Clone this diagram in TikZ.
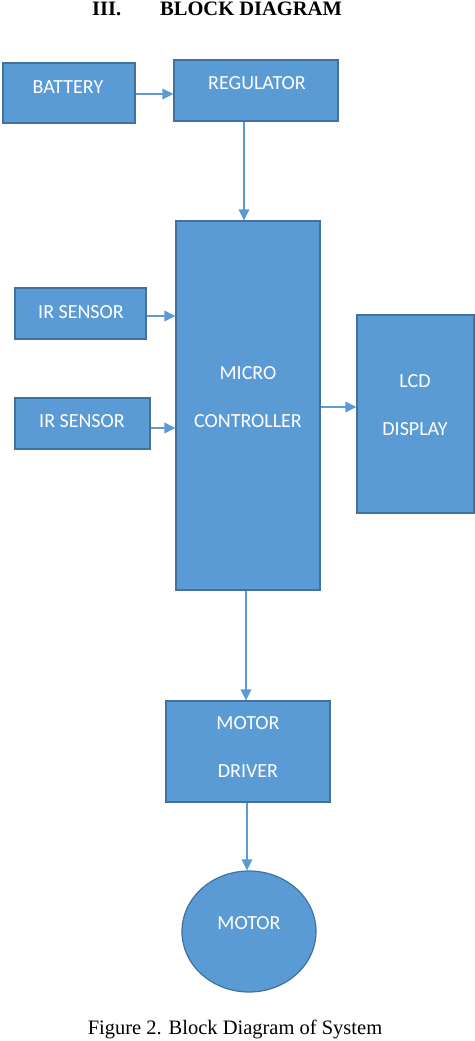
\documentclass[tikz,border=0pt]{standalone}
\usepackage{fontspec}
\setmainfont{Liberation Serif}
\newfontfamily\blockfont{Carlito}
\usetikzlibrary{arrows.meta, shapes.geometric}

\definecolor{boxfill}{HTML}{5B9BD5}
\definecolor{boxline}{HTML}{41719C}

\begin{document}
\begin{tikzpicture}[
    x=1pt, y=-1pt,
    % --- STYLES ---
    block/.style={
            draw=boxline,
            fill=boxfill,
            line width=1.2pt,
            rectangle,
            inner sep=0pt
        },
    ellip/.style={
            draw=boxline,
            fill=boxfill,
            line width=1.2pt,
            ellipse,
            inner sep=0pt
        },
    lbl/.style={
            text=white,
            align=center,
            inner sep=0pt,
            font=\blockfont\fontsize{20}{48}\selectfont
        },
    flow/.style={
            -{Triangle[length=11pt,width=10.5pt]},
            line width=1.5pt,
            color=boxfill
        }
    ]
    \useasboundingbox (0,0) rectangle (474,1041);

    % --- TITLE ---
    \node[anchor=base west, inner sep=0pt, font=\bfseries\fontsize{20.5}{24}\selectfont] (secno) at (92,16) {III.};
    \node[anchor=base west, inner sep=0pt, font=\bfseries\fontsize{20.5}{24}\selectfont] (title) at (160,16) {BLOCK DIAGRAM};

    % --- BLOCKS ---
    \node[block, minimum width=132pt, minimum height=60pt] (bat) at (69,93) {};
    \node[lbl] (battxt) at (68,87) {BATTERY};

    \node[block, minimum width=164pt, minimum height=61pt] (reg) at (256,90.5) {};
    \node[lbl] (regtxt) at (257,83) {REGULATOR};

    \node[block, minimum width=144pt, minimum height=369pt] (mcu) at (248,405.5) {};
    \node[lbl] (mcutxt) at (248,397) {MICRO\\CONTROLLER};

    \node[block, minimum width=131pt, minimum height=51pt] (irA) at (80.5,313.5) {};
    \node[lbl] (irAtxt) at (81,312) {IR SENSOR};

    \node[block, minimum width=135pt, minimum height=51pt] (irB) at (82.5,423.5) {};
    \node[lbl] (irBtxt) at (82,421) {IR SENSOR};

    \node[block, minimum width=117pt, minimum height=198pt] (lcd) at (415.5,414) {};
    \node[lbl] (lcdtxt) at (415,405) {LCD\\DISPLAY};

    \node[block, minimum width=164pt, minimum height=101pt] (drv) at (248,751.5) {};
    \node[lbl] (drvtxt) at (248,747.5) {MOTOR\\DRIVER};

    \node[ellip, minimum width=134pt, minimum height=121pt] (motor) at (249,931.5) {};
    \node[lbl] (motortxt) at (249,923) {MOTOR};

    % --- CONNECTIONS ---
    \draw[flow] ([yshift=-1pt]bat.east) -- ([yshift=-1pt]bat.east -| reg.west);
    \draw[flow] ([xshift=-12pt]reg.south) -- ([xshift=-12pt]reg.south |- mcu.north);
    \draw[flow] ([yshift=-2.5pt]irA.east) -- ([yshift=-2.5pt]irA.east -| mcu.west);
    \draw[flow] ([yshift=-4.5pt]irB.east) -- ([yshift=-4.5pt]irB.east -| mcu.west);
    \draw[flow] ([yshift=-1.5pt]mcu.east) -- ([yshift=-1.5pt]mcu.east -| lcd.west);
    \draw[flow] ([xshift=-2pt]mcu.south) -- ([xshift=-2pt]mcu.south |- drv.north);
    \draw[flow] ([xshift=-1pt]drv.south) -- ([xshift=-1pt]drv.south |- motor.north);

    % --- CAPTION ---
    \node[anchor=base, inner sep=0pt, font=\fontsize{20.5}{24}\selectfont] (caption) at (235,1034) {Figure 2. Block Diagram of System};
\end{tikzpicture}
\end{document}
